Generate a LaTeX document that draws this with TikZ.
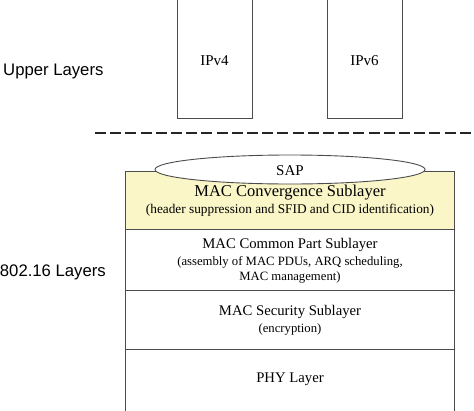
\documentclass[tikz,border=0pt]{standalone}
\usepackage{fontspec}
\setmainfont{Liberation Serif}
\newfontfamily\arialfont{Liberation Sans}
\usetikzlibrary{shapes.geometric}
\begin{document}
\begin{tikzpicture}[x=1pt,y=-1pt,
  boxline/.style={draw=black!70, line width=0.9pt},
  layerbox/.style={boxline, minimum width=329pt, inner sep=0pt, anchor=north west},
  ipbox/.style={boxline, minimum width=75pt, minimum height=125pt, inner sep=0pt, anchor=south west},
  ttl/.style={font=\fontsize{14.7}{17}\selectfont, inner sep=0pt},
  bigttl/.style={font=\fontsize{16.5}{19}\selectfont, inner sep=0pt},
  sub/.style={font=\fontsize{12.7}{14.8}\selectfont, inner sep=0pt, align=center},
  bigsub/.style={font=\fontsize{13.3}{15}\selectfont, inner sep=0pt, align=center},
  side/.style={font=\arialfont\fontsize{16.7}{19}\selectfont, inner sep=0pt, anchor=west}]
\useasboundingbox (0,0) rectangle (474,410);
\clip (0,0) rectangle (474,410);
\definecolor{csyellow}{RGB}{250,246,200}
% upper layers
\node[ipbox] (ipv4) at (177,119) {};
\node[ipbox] (ipv6) at (327,119) {};
\node[ttl, font=\fontsize{15}{17}\selectfont] (ipv4t) at (214.5,61) {IPv4};
\node[ttl, font=\fontsize{15}{17}\selectfont] (ipv6t) at (364.5,61) {IPv6};
\node[side] (upper) at (3,71) {Upper Layers};
% dashed separator
\coordinate (dl) at (95,133);
\coordinate (dr) at (476,133);
\draw[black!85, line width=1.9pt, dash pattern=on 11pt off 4.2pt] (dl) -- (dr);
% 802.16 stack
\node[layerbox, fill=csyellow, minimum height=58pt] (cs) at (125,171) {};
\node[layerbox, minimum height=61pt] (cps) at (125,229) {};
\node[layerbox, minimum height=59pt] (sec) at (125,290) {};
\node[layerbox, minimum height=70pt] (phy) at (125,349) {};
\node[boxline, fill=white, ellipse, minimum width=270pt, minimum height=29pt, inner sep=0pt] (sap) at (290,169.5) {};
\node[ttl, font=\fontsize{15}{17}\selectfont] (sapt) at (290,171) {SAP};
\node[bigttl] (cst) at (290,193) {MAC Convergence Sublayer};
\node[bigsub] (css) at (290,210) {(header suppression and SFID and CID identification)};
\node[ttl] (cpst) at (290,245) {MAC Common Part Sublayer};
\node[sub] (cpss) at (290,270) {(assembly of MAC PDUs, ARQ scheduling,\\MAC management)};
\node[ttl] (sect) at (290,312) {MAC Security Sublayer};
\node[sub] (secs) at (290,329) {(encryption)};
\node[ttl] (phyt) at (290,379) {PHY Layer};
\node[side, anchor=east] (l80216) at (106,272) {802.16 Layers};
\end{tikzpicture}
\end{document}
